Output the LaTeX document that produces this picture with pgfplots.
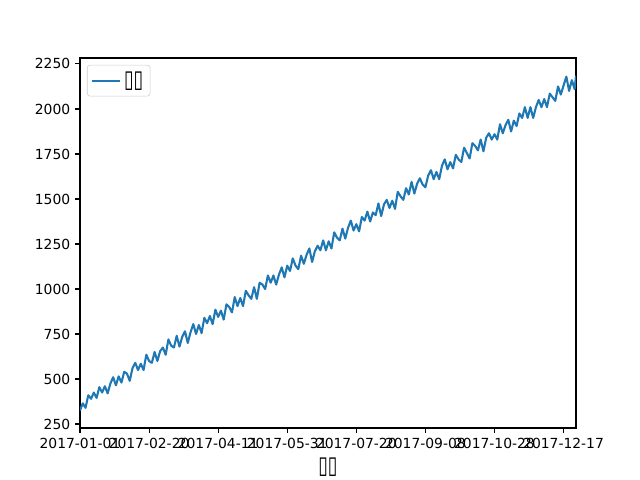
\documentclass[border=0pt]{standalone}
\usepackage{fontspec}
\setmainfont{DejaVu Sans}
\usepackage{graphicx}
\usepackage{pgfplots}
\pgfplotsset{compat=1.18}
\definecolor{mplblue}{HTML}{1F77B4}
\newcommand{\tofu}{\raisebox{-0.5pt}{\scalebox{1.25}[1.75]{▯▯}}}
\begin{document}
\begin{tikzpicture}
\useasboundingbox (0,0) rectangle (460.8pt,345.6pt);
\begin{axis}[
  at={(57.6pt,37.44pt)}, anchor=south west,
  scale only axis, width=357.12pt, height=266.4pt,
  xmin=0, xmax=359, ymin=228, ymax=2283,
  xtick={0,50,...,350},
  xticklabels={2017-01-01,2017-02-20,2017-04-11,2017-05-31,2017-07-20,2017-09-08,2017-10-28,2017-12-17},
  ytick={250,500,...,2250},
  tick align=outside, tick pos=left,
  major tick length=3.5pt,
  every tick/.style={black, line width=0.8pt},
  axis line style={line width=0.8pt},
  /pgf/number format/assume math mode=true,
  /pgf/number format/1000 sep={},
  ticklabel style={font=\fontsize{10}{12}\selectfont},
  label style={font=\fontsize{10}{12}\selectfont},
  xlabel={\tofu},
  legend style={at={(0,1)}, anchor=north west, xshift=5pt, yshift=-5pt, draw=black!20, rounded corners=2pt, font=\fontsize{10}{12}\selectfont, inner xsep=3pt, inner ysep=3pt},
  legend cell align=left,
  legend image code/.code={\draw[#1] (0pt,0pt) -- (20pt,0pt);},
]
\addplot[mplblue, line width=1.5pt, line join=round] coordinates {
(0,325)(2,365)(4,340)(6,410)(8,390)(10,425)(12,395)(14,455)(16,425)(18,460)
(20,420)(22,475)(24,510)(26,465)(28,515)(30,480)(32,540)(34,530)(36,490)(38,560)
(40,590)(42,550)(44,585)(46,550)(48,635)(50,600)(52,590)(54,650)(56,600)(58,655)
(60,675)(62,635)(64,720)(66,685)(68,675)(70,740)(72,680)(74,735)(76,765)(78,700)
(80,760)(82,805)(84,750)(86,800)(88,755)(90,840)(92,810)(94,850)(96,805)(98,885)
(100,845)(102,880)(104,830)(106,915)(108,900)(110,870)(112,955)(114,905)(116,950)(118,905)
(120,990)(122,965)(124,945)(126,1010)(128,945)(130,1035)(132,1025)(134,1000)(136,1075)(138,1035)
(140,1075)(142,1025)(144,1080)(146,1120)(148,1065)(150,1130)(152,1100)(154,1170)(156,1130)(158,1110)
(160,1185)(162,1140)(164,1190)(166,1225)(168,1150)(170,1210)(172,1240)(174,1215)(176,1270)(178,1215)
(180,1265)(182,1225)(184,1315)(186,1285)(188,1270)(190,1335)(192,1280)(194,1340)(196,1380)(198,1325)
(200,1360)(202,1320)(204,1400)(206,1380)(208,1430)(210,1375)(212,1425)(214,1410)(216,1475)(218,1405)
(220,1470)(222,1495)(224,1450)(226,1490)(228,1445)(230,1540)(232,1515)(234,1495)(236,1560)(238,1525)
(240,1595)(242,1530)(244,1585)(246,1615)(248,1580)(250,1565)(252,1630)(254,1660)(256,1610)(258,1650)
(260,1610)(262,1685)(264,1720)(266,1665)(268,1705)(270,1670)(272,1745)(274,1720)(276,1705)(278,1785)
(280,1755)(282,1725)(284,1810)(286,1795)(288,1770)(290,1830)(292,1765)(294,1840)(296,1865)(298,1830)
(300,1860)(302,1830)(304,1915)(306,1865)(308,1910)(310,1940)(312,1875)(314,1935)(316,1905)(318,1975)
(320,1950)(322,2010)(324,1950)(326,2010)(328,1950)(330,2010)(332,2050)(334,2010)(336,2055)(338,2010)
(340,2085)(342,2065)(344,2045)(346,2125)(348,2080)(350,2130)(352,2180)(354,2100)(356,2160)(358,2110)
(359,2185)
};
\addlegendentry{\tofu}
\end{axis}
\end{tikzpicture}
\end{document}
